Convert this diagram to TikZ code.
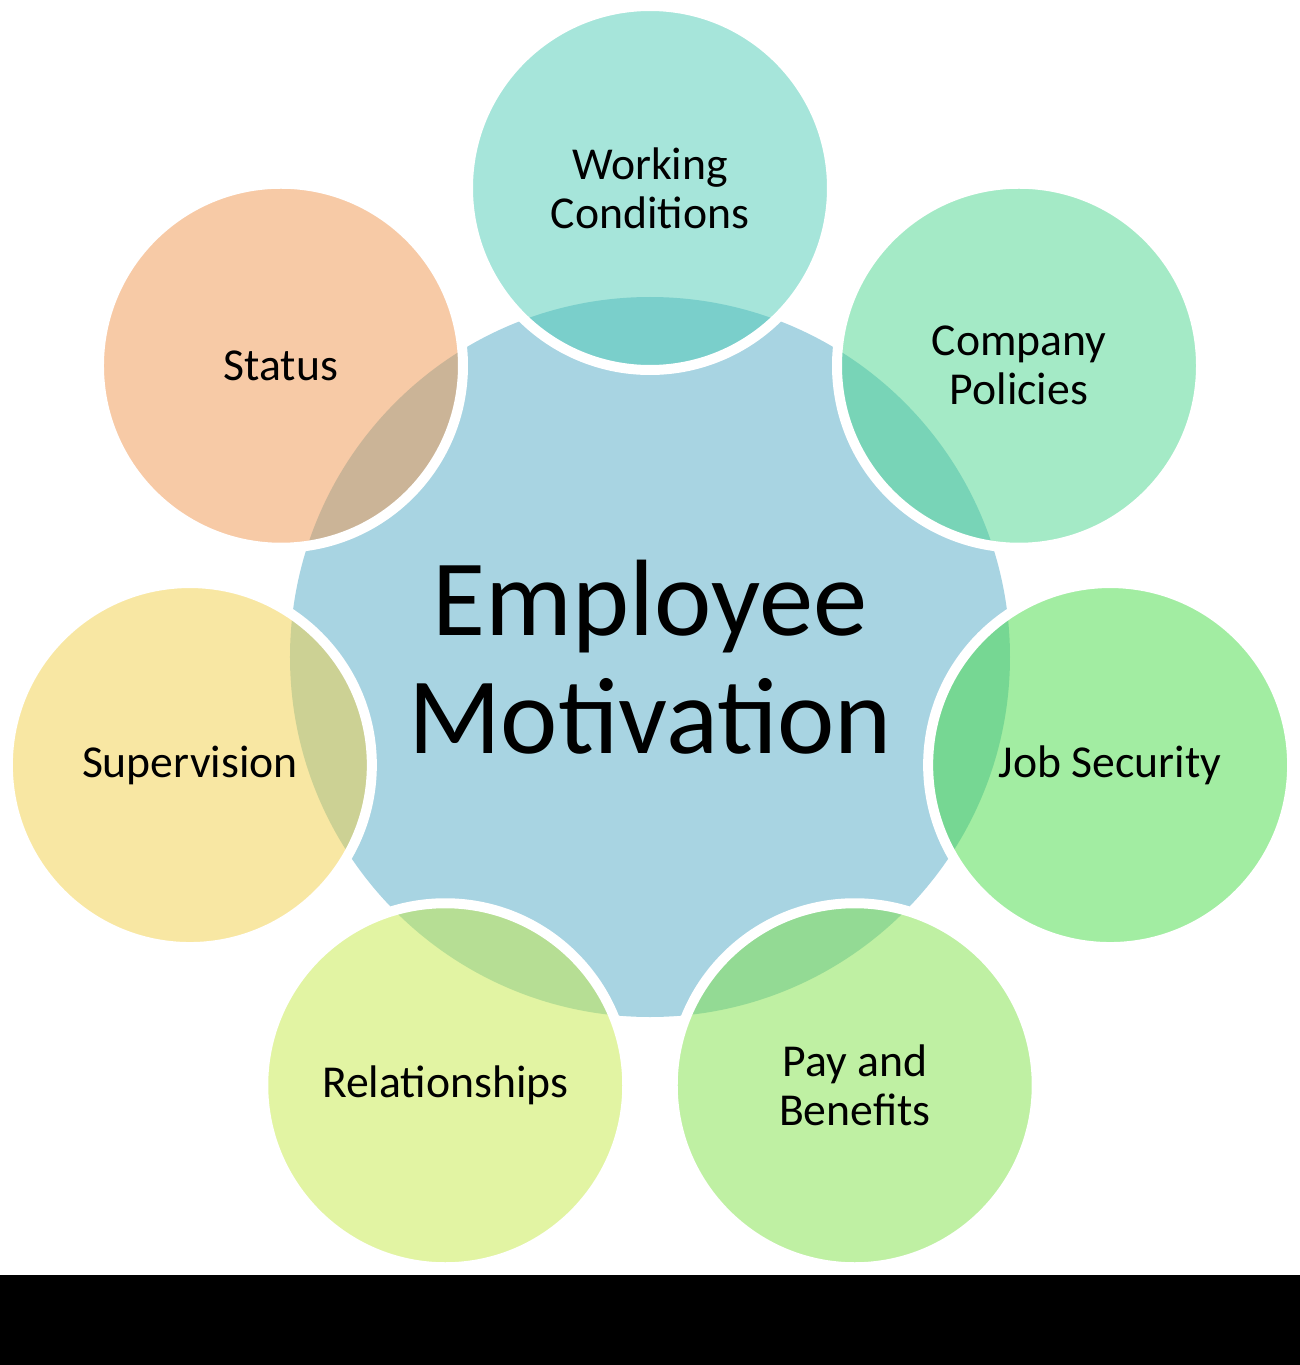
\documentclass[tikz,border=0pt]{standalone}
\usepackage{fontspec}
\setmainfont{Carlito}
\usepackage{tikz}
\usetikzlibrary{shapes.geometric}

\definecolor{hubblue}{RGB}{168,212,226}
\definecolor{workteal}{RGB}{77,203,181}
\definecolor{policygreen}{RGB}{73,213,141}
\definecolor{jobgreen}{RGB}{69,219,69}
\definecolor{paygreen}{RGB}{127,225,71}
\definecolor{relyellow}{RGB}{197,233,71}
\definecolor{supyellow}{RGB}{241,207,71}
\definecolor{statusorange}{RGB}{239,149,77}

\tikzstyle{hub} = [circle, minimum size=7.2cm, fill=hubblue, text centered, align=center, font=\fontsize{30.9}{33.5}\selectfont]
\tikzstyle{factor} = [circle, minimum size=3.64cm, draw=white, line width=1mm, fill opacity=0.5, draw opacity=1, text opacity=1, text centered, align=center, font=\fontsize{13}{13.9}\selectfont]

\begin{document}
\begin{tikzpicture}

  \useasboundingbox (-6.5,-7.05) rectangle (6.5,6.6);

  \node (motiv) [hub] at (0,0.03) {Employee\\Motivation};

  \node (work) [factor, fill=workteal] at (90:4.72) {Working\\Conditions};
  \node (policy) [factor, fill=policygreen] at (38.57:4.72) {Company\\Policies};
  \node (job) [factor, fill=jobgreen] at (-12.86:4.72) {Job Security};
  \node (pay) [factor, fill=paygreen] at (-64.29:4.72) {Pay and\\Benefits};
  \node (rel) [factor, fill=relyellow] at (-115.71:4.72) {Relationships};
  \node (sup) [factor, fill=supyellow] at (192.86:4.72) {Supervision};
  \node (status) [factor, fill=statusorange] at (141.43:4.72) {Status};

  % black strip along the bottom
  \fill[black] (-6.5,-6.15) rectangle (6.5,-7.05);

\end{tikzpicture}
\end{document}
